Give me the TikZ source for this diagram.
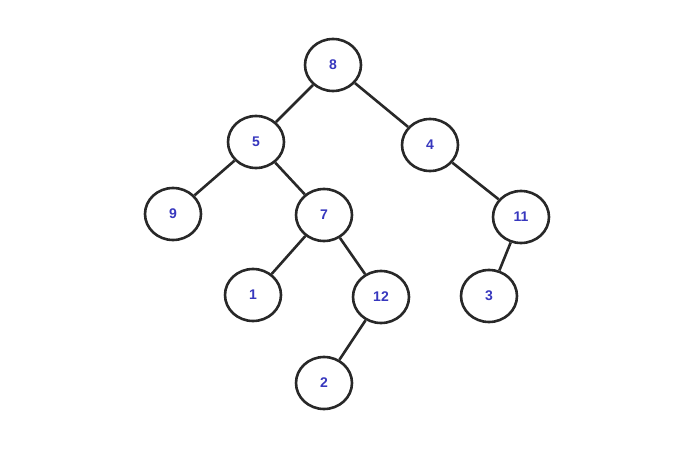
\documentclass[tikz,border=0pt]{standalone}
\usepackage{fontspec}
\setsansfont{Liberation Sans}
\usetikzlibrary{shapes.geometric}
\definecolor{numblue}{RGB}{55,55,190}
\definecolor{edgegray}{RGB}{40,40,40}
\tikzset{
  tnode/.style={ellipse, draw=edgegray, line width=2.6pt, fill=white,
    minimum width=56pt, minimum height=52pt, inner sep=0pt,
    font=\sffamily\bfseries\fontsize{14}{14}\selectfont, text=numblue},
  tedge/.style={draw=edgegray, line width=2.6pt}
}
\begin{document}
\begin{tikzpicture}[x=1pt,y=-1pt]
\useasboundingbox (0,0) rectangle (700,449);
\node[tnode] (n8) at (333,65) {8};
\node[tnode] (n5) at (256,142) {5};
\node[tnode] (n4) at (430,145) {4};
\node[tnode] (n9) at (173,214) {9};
\node[tnode] (n7) at (324,215) {7};
\node[tnode] (n11) at (521,217) {11};
\node[tnode] (n1) at (253,295) {1};
\node[tnode] (n12) at (381,297) {12};
\node[tnode] (n3) at (489,296) {3};
\node[tnode] (n2) at (324,383) {2};
\draw[tedge] (n8) -- (n5);
\draw[tedge] (n8) -- (n4);
\draw[tedge] (n5) -- (n9);
\draw[tedge] (n5) -- (n7);
\draw[tedge] (n4) -- (n11);
\draw[tedge] (n7) -- (n1);
\draw[tedge] (n7) -- (n12);
\draw[tedge] (n11) -- (n3);
\draw[tedge] (n12) -- (n2);
\end{tikzpicture}
\end{document}
